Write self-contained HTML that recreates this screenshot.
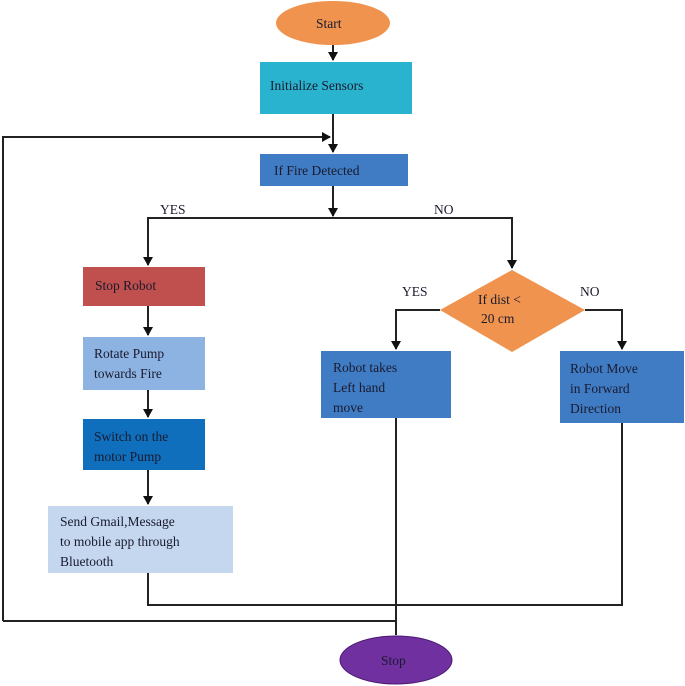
<!DOCTYPE html>
<html><head><meta charset="utf-8"><style>
html,body{margin:0;padding:0;background:#fff;}
svg{display:block;}
text{font-family:"Liberation Serif",serif;font-size:13.5px;fill:#1a1a2e;}
</style></head><body>
<svg width="685" height="686" viewBox="0 0 685 686" xmlns="http://www.w3.org/2000/svg">
<defs><marker id="a" markerWidth="10" markerHeight="10" refX="8" refY="5" orient="auto" markerUnits="userSpaceOnUse"><path d="M0,0 L9,5 L0,10 z" fill="#111"/></marker></defs>
<g stroke="#222" stroke-width="2" fill="none">
<line x1="333" y1="45" x2="333" y2="60" marker-end="url(#a)"/>
<line x1="333" y1="114" x2="333" y2="152" marker-end="url(#a)"/>
<polyline points="3,621 3,137 330,137" marker-end="url(#a)"/>
<line x1="333" y1="186" x2="333" y2="216" marker-end="url(#a)"/>
<polyline points="148,264 148,218 512,218 512,268" />
<line x1="148" y1="250" x2="148" y2="265" marker-end="url(#a)"/>
<line x1="512" y1="250" x2="512" y2="268" marker-end="url(#a)"/>
<line x1="148" y1="306" x2="148" y2="335" marker-end="url(#a)"/>
<line x1="148" y1="390" x2="148" y2="417" marker-end="url(#a)"/>
<line x1="148" y1="470" x2="148" y2="504" marker-end="url(#a)"/>
<polyline points="440,310 396,310 396,349" marker-end="url(#a)"/>
<polyline points="585,310 622,310 622,349" marker-end="url(#a)"/>
<polyline points="148,573 148,605 622,605 622,423"/>
<line x1="396" y1="418" x2="396" y2="635"/>
<line x1="3" y1="621" x2="396" y2="621"/>
</g>
<ellipse cx="333" cy="23" rx="57" ry="22" fill="#f0934f"/>
<text x="316" y="28">Start</text>
<rect x="260" y="62" width="152" height="52" fill="#2ab3cf"/>
<text x="270" y="90">Initialize Sensors</text>
<rect x="260" y="154" width="148" height="32" fill="#3f7cc4"/>
<text x="274" y="175">If Fire Detected</text>
<text x="160" y="214">YES</text>
<text x="434" y="214">NO</text>
<rect x="83" y="267" width="122" height="39" fill="#c0504d"/>
<text x="95" y="290">Stop Robot</text>
<rect x="83" y="337" width="122" height="53" fill="#8db3e2"/>
<text x="94" y="358">Rotate Pump</text>
<text x="94" y="378">towards  Fire</text>
<rect x="83" y="419" width="122" height="51" fill="#0f6fbd"/>
<text x="94" y="441">Switch on the</text>
<text x="94" y="461">motor Pump</text>
<rect x="48" y="506" width="185" height="67" fill="#c4d7ee"/>
<text x="60" y="526">Send Gmail,Message</text>
<text x="60" y="546">to mobile app  through</text>
<text x="60" y="566">Bluetooth</text>
<polygon points="512,270 585,310 512,352 440,310" fill="#f0934f"/>
<text x="478" y="304">If dist &lt;</text>
<text x="481" y="323">20 cm</text>
<text x="402" y="296">YES</text>
<text x="580" y="296">NO</text>
<rect x="321" y="351" width="130" height="67" fill="#3f7cc4"/>
<text x="333" y="372">Robot takes</text>
<text x="333" y="392">Left  hand</text>
<text x="333" y="412">move</text>
<rect x="560" y="351" width="124" height="72" fill="#3f7cc4"/>
<text x="570" y="373">Robot Move</text>
<text x="570" y="393">in Forward</text>
<text x="570" y="413">Direction</text>
<ellipse cx="396" cy="660" rx="56" ry="24" fill="#7030a0" stroke="#4a1a70" stroke-width="1"/>
<text x="381" y="665">Stop</text>
</svg>
</body></html>
